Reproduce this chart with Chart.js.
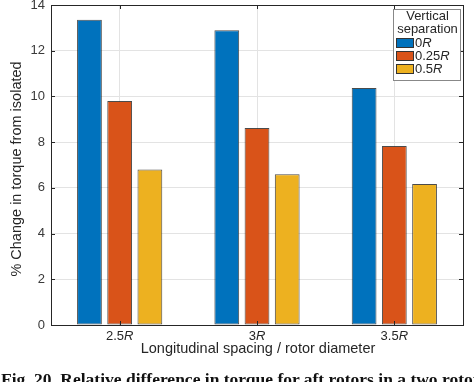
<!DOCTYPE html>
<html><head><meta charset="utf-8">
<script src="https://cdn.jsdelivr.net/npm/chart.js@4"></script>
<style>
html,body{margin:0;padding:0;background:#fff;}
#wrap{position:relative;width:474px;height:382px;overflow:hidden;}
#cap{position:absolute;left:1px;top:369px;white-space:nowrap;font:bold 17.5px "Liberation Serif","Times New Roman",serif;color:#111;}
</style></head>
<body>
<div id="wrap"><canvas id="c" width="474" height="382"></canvas>
<div id="cap">Fig. 20. Relative difference in torque for aft rotors in a two rotor</div></div>
<script>
const categories = ["2.5", "3", "3.5"];
const seriesNames = ["0", "0.25", "0.5"];
const sep0R = [13.35, 12.9, 10.37];
const sep025R = [9.8, 8.62, 7.83];
const sep05R = [6.8, 6.6, 6.17];
const yTicks = [0, 2, 4, 6, 8, 10, 12, 14];
const colors = ["#0072BD", "#D95319", "#EDB120"];
const legendTitle = ["Vertical", "separation"];
const xTitle = "Longitudinal spacing / rotor diameter";
const yTitle = "% Change in torque from isolated";

const FONT = '"Liberation Sans", Arial, Helvetica, sans-serif';
const TXT = '#262626';

function drawMixed(ctx, parts, x, y, align) {
  let total = 0;
  const ws = parts.map(p => { ctx.font = (p[1] ? 'italic ' : '') + '13px ' + FONT; const w = ctx.measureText(p[0]).width; total += w; return w; });
  let cx = align === 'center' ? x - total / 2 : x;
  ctx.textAlign = 'left';
  parts.forEach((p, i) => { ctx.font = (p[1] ? 'italic ' : '') + '13px ' + FONT; ctx.fillText(p[0], cx, y); cx += ws[i]; });
}

const deco = {
  id: 'deco',
  afterDraw(chart) {
    const ctx = chart.ctx, a = chart.chartArea, xs = chart.scales.x, ys = chart.scales.y;
    ctx.save();
    ctx.strokeStyle = TXT; ctx.lineWidth = 1;
    ctx.strokeRect(Math.round(a.left) + 0.5, Math.round(a.top) + 0.5, Math.round(a.right - a.left), Math.round(a.bottom - a.top));
    ctx.beginPath();
    yTicks.forEach(v => { const y = Math.round(ys.getPixelForValue(v)) + 0.5;
      ctx.moveTo(a.left, y); ctx.lineTo(a.left + 4, y); ctx.moveTo(a.right, y); ctx.lineTo(a.right - 4, y); });
    categories.forEach((c, i) => { const x = Math.round(xs.getPixelForValue(i)) + 0.5;
      ctx.moveTo(x, a.bottom); ctx.lineTo(x, a.bottom - 4); ctx.moveTo(x, a.top); ctx.lineTo(x, a.top + 4); });
    ctx.stroke();
    ctx.fillStyle = TXT; ctx.textBaseline = 'middle';
    categories.forEach((c, i) => drawMixed(ctx, [[c, false], ['R', true]], xs.getPixelForValue(i), a.bottom + 11, 'center'));
    ctx.font = '14.5px ' + FONT; ctx.textAlign = 'center';
    ctx.fillText(xTitle, (a.left + a.right) / 2 + 1, a.bottom + 24);
    ctx.save(); ctx.translate(17, 169); ctx.rotate(-Math.PI / 2);
    ctx.fillText(yTitle, 0, 0); ctx.restore();
    const lx = 393, ly = 9, lw = 67, lh = 71;
    ctx.fillStyle = '#fff'; ctx.fillRect(lx, ly, lw, lh);
    ctx.strokeStyle = '#888'; ctx.strokeRect(lx + 0.5, ly + 0.5, lw, lh);
    ctx.fillStyle = TXT; ctx.font = '13px ' + FONT; ctx.textAlign = 'center';
    legendTitle.forEach((t, i) => ctx.fillText(t, lx + lw / 2 + 1, ly + 7 + i * 13));
    seriesNames.forEach((n, i) => {
      const ry = ly + 34 + i * 13;
      ctx.fillStyle = colors[i]; ctx.fillRect(lx + 3, ry - 5, 18, 10);
      ctx.strokeStyle = '#333'; ctx.strokeRect(lx + 3.5, ry - 4.5, 17, 9);
      ctx.fillStyle = TXT; drawMixed(ctx, [[n, false], ['R', true]], lx + 22, ry, 'left');
    });
    ctx.restore();
  }
};

new Chart(document.getElementById('c'), {
  type: 'bar',
  data: {
    labels: categories.map(c => c + 'R'),
    datasets: [sep0R, sep025R, sep05R].map((d, i) => ({
      label: seriesNames[i] + 'R', data: d, backgroundColor: colors[i],
      borderColor: 'rgba(30,30,30,0.8)', borderWidth: 1, borderSkipped: false,
      barPercentage: 0.82, categoryPercentage: 0.66
    }))
  },
  options: {
    responsive: false, animation: false,
    layout: { padding: { top: 5, right: 11, left: 0, bottom: 0 } },
    plugins: { legend: { display: false }, tooltip: { enabled: false } },
    scales: {
      x: {
        grid: { color: '#e3e3e3', drawTicks: false, offset: false },
        border: { display: false },
        ticks: { display: false },
        afterFit: s => { s.height = 57; s.paddingLeft = 0; s.paddingRight = 0; }
      },
      y: {
        min: 0, max: 14,
        afterBuildTicks: s => { s.ticks = yTicks.map(v => ({ value: v })); },
        grid: { color: '#e3e3e3', drawTicks: false },
        border: { display: false },
        ticks: { color: '#3a3a3a', font: { family: FONT, size: 13 }, padding: 6 },
        afterFit: s => { s.width = 51; s.paddingTop = 0; s.paddingBottom = 0; }
      }
    }
  },
  plugins: [deco]
});
</script>
</body></html>
